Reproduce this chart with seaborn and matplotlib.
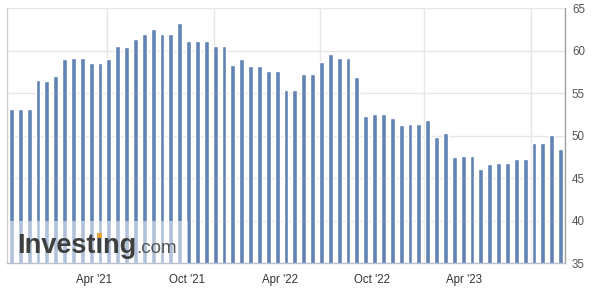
import numpy as np
import pandas as pd
import matplotlib
matplotlib.use("Agg")
import matplotlib.pyplot as plt
from matplotlib.patches import Rectangle
import seaborn as sns

# === Data ===
values = [53.2, 53.2, 53.2, 56.6, 56.4, 57.0, 59.0, 59.1, 59.1, 58.6,
          58.6, 59.0, 60.6, 60.4, 61.4, 62.0, 62.6, 62.0, 62.0, 63.3,
          61.2, 61.1, 61.1, 60.6, 60.6, 58.3, 59.0, 58.2, 58.2, 57.6,
          57.6, 55.4, 55.4, 57.3, 57.3, 58.7, 59.6, 59.1, 59.1, 56.9,
          52.3, 52.6, 52.6, 52.1, 51.3, 51.4, 51.4, 51.9, 49.9, 50.3,
          47.5, 47.6, 47.6, 46.1, 46.7, 46.8, 46.8, 47.3, 47.3, 49.2,
          49.2, 50.1, 48.4]
tick_labels = ["Apr '21", "Oct '21", "Apr '22", "Oct '22", "Apr '23"]
label_pos = [9.3, 19.8, 30.3, 40.7, 51.1]
grid_pos = [10.8, 22.9, 34.8, 46.6, 58.7]
y_ticks = [35, 40, 45, 50, 55, 60, 65]

df = pd.DataFrame({"idx": range(len(values)), "value": values})

sns.set_style("white")
plt.rcParams['font.family'] = ['Liberation Sans', 'DejaVu Sans']

fig = plt.figure(figsize=(5.98, 3.0), dpi=100)
ax = fig.add_axes([7 / 598, 36.7 / 300, 558 / 598, 255 / 300])

sns.barplot(data=df, x="idx", y="value", color="#6283b3", saturation=1,
            width=0.56, ax=ax)

ax.set_xlim(-0.5, len(values) - 0.5)
ax.set_ylim(35, 65)
ax.set_xlabel("")
ax.set_ylabel("")

# x axis: labels and gridlines sit at different places
ax.set_xticks(label_pos)
ax.set_xticklabels(tick_labels, fontsize=8.3, color="#333333")
ax.set_xticks(grid_pos, minor=True)
ax.tick_params(axis="x", which="both", length=0, pad=8)

# y axis on the right
ax.yaxis.tick_right()
ax.set_yticks(y_ticks)
ax.set_yticklabels([str(v) for v in y_ticks], fontsize=8.3, color="#555555")
ax.tick_params(axis="y", length=0, pad=5)

ax.set_axisbelow(True)
ax.grid(axis="y", which="major", color="#e6e6e6", linewidth=1)
ax.grid(axis="x", which="minor", color="#e6e6e6", linewidth=1)
ax.grid(axis="x", which="major", visible=False)

ax.spines["top"].set_visible(False)
ax.spines["left"].set_color("#d0d0d0")
ax.spines["right"].set_color("#a0a0a0")
ax.spines["bottom"].set_color("#b8c0d0")
for s in ["left", "right", "bottom"]:
    ax.spines[s].set_linewidth(1)

# === Investing.com watermark ===
ax.add_patch(Rectangle((0.0036, 0), 0.3208, 0.166, transform=ax.transAxes,
                       facecolor="white", alpha=0.5, edgecolor="none", zorder=3))
logo_size = 19.5
x0, y0 = 0.018, 0.040
main = ax.text(x0, y0, "Investing", transform=ax.transAxes, fontsize=logo_size,
               fontweight="bold", color="#3f3f3f", va="baseline", ha="left", zorder=4)

# measure text widths so ".com" and the orange dot line up
renderer = fig.canvas.get_renderer()
ax_w = ax.get_window_extent(renderer).width
ax_h = ax.get_window_extent(renderer).height
w_main = main.get_window_extent(renderer).width / ax_w
tmp = ax.text(x0, y0, "Invest", transform=ax.transAxes, fontsize=logo_size,
              fontweight="bold", va="baseline", ha="left")
w_pre = tmp.get_window_extent(renderer).width / ax_w
tmp.remove()

ax.text(x0 + w_main, y0, ".com", transform=ax.transAxes, fontsize=13.5,
        color="#555555", va="baseline", ha="left", zorder=4)

em = logo_size * 100 / 72  # pixels
dot_x = x0 + w_pre + 0.06 * em / ax_w
dot_y = y0 + 0.55 * em / ax_h
ax.add_patch(Rectangle((dot_x, dot_y), 0.17 * em / ax_w, 0.18 * em / ax_h,
                       transform=ax.transAxes, facecolor="#e8a33b",
                       edgecolor="none", zorder=5))

fig.savefig("out.png", dpi=100)
